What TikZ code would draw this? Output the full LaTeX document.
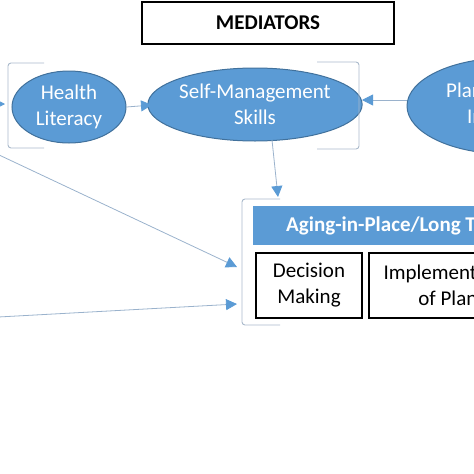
\documentclass[tikz,border=0pt]{standalone}
\usepackage{fontspec}
\setmainfont{Carlito}
\usetikzlibrary{arrows.meta,shapes.geometric}
\definecolor{obl}{HTML}{5B9BD5}
\definecolor{obd}{HTML}{41719C}
\definecolor{conn}{HTML}{9AB2CC}
\definecolor{brk}{HTML}{A9B9CB}
\begin{document}
\begin{tikzpicture}[x=1pt,y=-1pt,
  oval/.style={ellipse,draw=obd,line width=1pt,fill=obl,inner sep=0pt,text=white,align=center,font=\fontsize{21}{26}\selectfont},
  plainbox/.style={rectangle,draw=black,line width=1.1pt,inner sep=0pt,align=center,font=\fontsize{21}{26}\selectfont},
  conn/.style={draw=conn,line width=0.8pt,-{Triangle[length=11pt,width=11pt,fill=obl,color=obl]}},
  bracket/.style={draw=brk,line width=0.9pt,rounded corners=3pt}]
\useasboundingbox (0,0) rectangle (474,474);
\clip (0,0) rectangle (474,474);
% title
\node[rectangle,draw=black,line width=1.1pt,minimum width=252pt,minimum height=42pt,inner sep=0pt,font=\fontsize{21}{24}\selectfont\bfseries] (med) at (268,23) {MEDIATORS};
% ellipses
\node[oval,minimum width=114pt,minimum height=72pt] (hl) at (69,107) {Health\\Literacy};
\node[oval,minimum width=204pt,minimum height=73pt] (sm) at (255,104.5) {Self-Management\\Skills};
\node[oval,minimum width=200pt,minimum height=96pt] (pl) at (507,106) {};
\node[anchor=base west,inner sep=0pt,text=white,font=\fontsize{21}{26}\selectfont] (pl1) at (446,97) {Planning};
\node[anchor=base west,inner sep=0pt,text=white,font=\fontsize{21}{26}\selectfont] (pl2) at (467,123) {Interventions};
% brackets
\draw[bracket] (44,63) -- (8,63) -- (8,148) -- (44,148);
\draw[bracket] (317,62) -- (359,62) -- (359,149) -- (317,149);
\draw[bracket] (280,199) -- (242,199) -- (242,325) -- (280,325);
% outcome block
\node[rectangle,fill=obl,minimum width=280pt,minimum height=39pt,anchor=north west,inner sep=0pt] (hdr) at (253,206) {};
\node[anchor=west,inner sep=0pt,text=white,font=\fontsize{21}{24}\selectfont\bfseries] (hdrt) at (286,226) {Aging-in-Place/Long Term Care Planning};
\node[plainbox,minimum width=106pt,minimum height=65pt] (dm) at (309,285.5) {Decision\\Making};
\node[plainbox,minimum width=166pt,minimum height=65pt] (im) at (452,285.5) {Implementation\\of Plans};
% connector endpoints
\coordinate (inL) at (-20,104);
\coordinate (hlIn) at (5,104);
\coordinate (smIn) at (152,105);
\coordinate (plOut) at (407,100);
\coordinate (rbIn) at (362,100);
\coordinate (smOut) at (272,140);
\coordinate (boxTop) at (278,197);
\coordinate (diagS) at (-20,146);
\coordinate (boxA) at (237,267);
\coordinate (lowS) at (-20,318);
\coordinate (boxB) at (237,304);
% connectors
\draw[conn] (inL) -- (hlIn);
\draw[conn] (hl.east) -- (smIn);
\draw[conn] (plOut) -- (rbIn);
\draw[conn] (smOut) -- (boxTop);
\draw[conn] (diagS) -- (boxA);
\draw[conn] (lowS) -- (boxB);
\end{tikzpicture}
\end{document}
